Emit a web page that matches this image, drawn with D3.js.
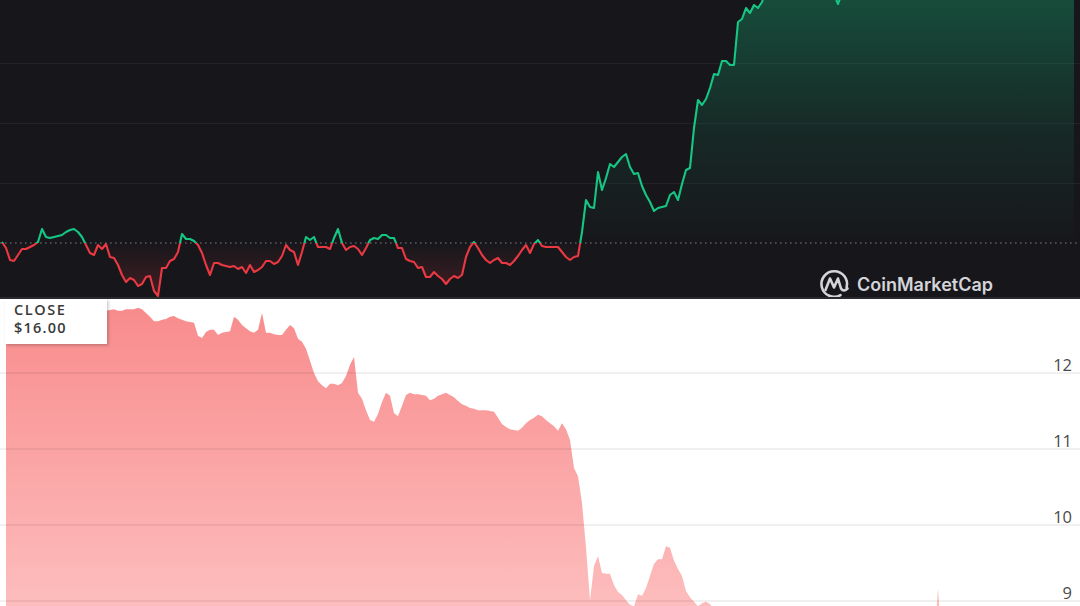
<!DOCTYPE html>
<html>
<head>
<meta charset="utf-8">
<script src="https://cdn.jsdelivr.net/npm/d3@7/dist/d3.min.js"></script>
<style>
  html, body { margin: 0; padding: 0; background: #ffffff; }
  svg { display: block; }
</style>
</head>
<body>
<svg id="chart" width="1080" height="606"></svg>
<script>
// ---------- DATA ----------
// Top panel (CoinMarketCap style): price series, reference (open) price and grid levels
const topOpen = 0.300;
const topGrid = [0.36, 0.42, 0.48];
const topValues = [
  .301,.295,.283,.282,.288,.294,.294,.296,.298,.301,
  .314,.306,.305,.306,.307,.308,.311,.313,.314,.311,
  .306,.298,.290,.288,.298,.294,.299,.286,.285,.278,
  .268,.261,.265,.263,.257,.259,.266,.267,.252,.247,
  .275,.275,.282,.284,.291,.309,.304,.304,.302,.298,
  .290,.278,.268,.280,.280,.278,.277,.276,.277,.274,
  .276,.270,.278,.271,.273,.276,.282,.282,.279,.281,
  .287,.298,.293,.291,.278,.291,.306,.303,.306,.296,
  .296,.296,.294,.305,.314,.300,.293,.296,.297,.294,
  .288,.295,.303,.305,.304,.308,.308,.305,.305,.295,
  .295,.284,.282,.281,.275,.276,.266,.266,.271,.267,
  .264,.259,.264,.267,.265,.268,.286,.296,.301,.295,
  .288,.283,.280,.283,.285,.280,.280,.278,.282,.287,
  .293,.298,.290,.299,.303,.297,.296,.296,.296,.296,
  .291,.286,.283,.286,.287,.311,.343,.336,.335,.371,
  .353,.365,.379,.376,.381,.386,.389,.376,.369,.370,
  .357,.348,.341,.332,.335,.336,.337,.348,.351,.343,
  .359,.373,.375,.415,.443,.438,.444,.455,.469,.468,
  .482,.482,.478,.478,.521,.524,.535,.530,.538,.535,
  .541,.553,.557,.565,.561,.571,.567,.575,.569,.563,
  .571,.577,.569,.561,.565,.558,.553,.555,.549,.539,
  .550,.559,.565,.561,.571,.578,.573,.583,.579,.588,
  .585,.593,.587,.581,.589,.595,.591,.583,.577,.581,
  .573,.569,.575,.581,.578,.587,.593,.589,.598,.603,
  .597,.591,.595,.587,.581,.585,.578,.573,.579,.571,
  .567,.573,.579,.575,.583,.589,.585,.593,.588,.581,
  .577,.583,.579,.573,.569,.575,.571,.565,.568
];

// Bottom panel: close price series and y tick labels
const bottomTicks = [12, 11, 10, 9];
const closeLabel = "CLOSE";
const closeValue = "$16.00";
const brandName = "CoinMarketCap";
const bottomValues = [
  12.83,12.84,12.83,12.84,12.86,12.84,12.83,12.84,12.86,12.84,12.83,12.84,12.86,12.84,12.83,12.82,12.83,12.84,12.83,12.82,12.83,12.84,12.83,12.82,12.83,12.82,
  12.83,12.84,12.82,12.82,12.84,12.84,12.84,12.86,12.84,12.79,12.74,12.68,12.68,12.70,12.71,12.74,12.75,12.72,12.70,12.68,12.67,12.66,
  12.49,12.46,12.54,12.57,12.57,12.50,12.53,12.54,12.55,12.74,12.70,12.63,12.59,12.55,12.53,12.57,12.79,12.53,12.53,12.51,12.50,12.50,12.57,12.63,12.59,12.45,12.41,12.32,12.16,12.00,11.89,11.84,11.80,11.86,11.86,11.84,11.87,11.96,12.11,12.21,
  11.74,11.66,11.51,11.38,11.36,11.46,11.62,11.74,11.70,11.47,11.43,11.57,11.71,11.74,11.72,11.72,11.71,11.70,11.64,11.66,11.70,11.72,11.74,11.71,11.68,11.63,11.59,11.57,11.54,11.53,11.51,11.51,11.51,11.50,11.49,11.41,11.33,11.29,11.26,11.25,11.24,11.28,11.34,11.38,11.41,11.45,11.43,11.38,11.34,11.30,11.24,11.34,11.26,
  11.12,10.75,10.64,10.29,9.70,9.01,9.46,9.59,9.37,9.36,9.36,9.21,9.12,9.08,9.01,8.95,8.93,9.09,9.07,9.17,9.33,9.49,9.55,9.55,9.72,9.70,9.53,9.42,9.33,9.13,9.05,8.99,8.93,8.97,8.99,8.96,8.88,
  8.80,8.72,8.65,8.70,8.62,8.58,8.66,8.60,8.55,8.62,8.68,8.60,8.52,8.57,8.64,8.70,8.66,8.58,8.50,8.55,8.62,8.59,8.53,8.48,8.55,8.60,8.66,8.63,8.57,8.51,8.46,8.52,8.58,8.62,8.56,8.50,8.45,8.49,8.55,8.60,8.57,8.52,8.47,8.43,8.48,8.54,8.58,8.53,8.49,8.44,8.47,8.52,8.48,8.44,8.40,
  9.16,
  8.40,8.46,8.52,8.49,8.44,8.50,8.56,8.53,8.48,8.45,8.51,8.57,8.54,8.49,8.46,8.52,8.58,8.55,8.50,8.47,8.53,8.59,8.56,8.51,8.48,8.54,8.50
];

// ---------- LAYOUT ----------
const W = 1080, H = 606;
const topH = 298;          // dark panel height
const botTop = 299;        // white panel start

const svg = d3.select("#chart");
const defs = svg.append("defs");

// ================= TOP PANEL =================
const gTop = svg.append("g");
gTop.append("rect").attr("x", 0).attr("y", 0).attr("width", W).attr("height", topH).attr("fill", "#17171b");

const xTop = d3.scaleLinear().domain([0, topValues.length - 1]).range([2, 1074]);
const yTop = d3.scaleLinear().domain([0.30, 0.54]).range([243, 3]);
const baseY = yTop(topOpen);

defs.append("clipPath").attr("id", "clipTopPanel")
  .append("rect").attr("x", 0).attr("y", 0).attr("width", W).attr("height", topH - 1);
defs.append("clipPath").attr("id", "clipAbove")
  .append("rect").attr("x", 0).attr("y", -50).attr("width", W).attr("height", baseY + 50);
defs.append("clipPath").attr("id", "clipBelow")
  .append("rect").attr("x", 0).attr("y", baseY).attr("width", W).attr("height", topH - baseY - 1);

const gGreen = defs.append("linearGradient").attr("id", "gradGreen")
  .attr("gradientUnits", "userSpaceOnUse").attr("x1", 0).attr("y1", 0).attr("x2", 0).attr("y2", baseY);
gGreen.append("stop").attr("offset", "0%").attr("stop-color", "#16c784").attr("stop-opacity", 0.30);
gGreen.append("stop").attr("offset", "55%").attr("stop-color", "#16c784").attr("stop-opacity", 0.10);
gGreen.append("stop").attr("offset", "100%").attr("stop-color", "#16c784").attr("stop-opacity", 0.0);

const gRed = defs.append("linearGradient").attr("id", "gradRed")
  .attr("gradientUnits", "userSpaceOnUse").attr("x1", 0).attr("y1", baseY).attr("x2", 0).attr("y2", topH);
gRed.append("stop").attr("offset", "0%").attr("stop-color", "#ea3943").attr("stop-opacity", 0.0);
gRed.append("stop").attr("offset", "100%").attr("stop-color", "#ea3943").attr("stop-opacity", 0.22);

const topPanel = gTop.append("g").attr("clip-path", "url(#clipTopPanel)");

// grid
topPanel.selectAll("line.grid").data(topGrid).join("line")
  .attr("class", "grid")
  .attr("x1", 0).attr("x2", W)
  .attr("y1", d => Math.round(yTop(d)) + 0.5).attr("y2", d => Math.round(yTop(d)) + 0.5)
  .attr("stroke", "#222227").attr("stroke-width", 1);

const areaTop = d3.area().x((d, i) => xTop(i)).y0(baseY).y1(d => yTop(d));
const lineTop = d3.line().x((d, i) => xTop(i)).y(d => yTop(d));

topPanel.append("g").attr("clip-path", "url(#clipAbove)")
  .append("path").datum(topValues).attr("d", areaTop).attr("fill", "url(#gradGreen)");
topPanel.append("g").attr("clip-path", "url(#clipBelow)")
  .append("path").datum(topValues).attr("d", areaTop).attr("fill", "url(#gradRed)");

// dotted reference line
topPanel.append("line")
  .attr("x1", 0).attr("x2", W).attr("y1", baseY).attr("y2", baseY)
  .attr("stroke", "#5b5b62").attr("stroke-width", 1.6).attr("stroke-dasharray", "1.6,3.4");

topPanel.append("g").attr("clip-path", "url(#clipAbove)")
  .append("path").datum(topValues).attr("d", lineTop)
  .attr("fill", "none").attr("stroke", "#16c784").attr("stroke-width", 2.1).attr("stroke-linejoin", "round");
topPanel.append("g").attr("clip-path", "url(#clipBelow)")
  .append("path").datum(topValues).attr("d", lineTop)
  .attr("fill", "none").attr("stroke", "#ea3943").attr("stroke-width", 2.1).attr("stroke-linejoin", "round");

// watermark logo
const logo = gTop.append("g").attr("fill", "none").attr("stroke", "#d4d4d9")
  .attr("stroke-width", 2.6).attr("stroke-linecap", "round").attr("stroke-linejoin", "round");
logo.append("path").attr("d", "M840.5,295.2 A12.8,12.8 0 1 1 846.6,287.4");
logo.append("path").attr("d", "M825.5,290 L830,278.5 L834,287.5 L838,278.5 L841,288.5 Q843.5,292.5 847.5,288.5");
gTop.append("text")
  .attr("x", 857).attr("y", 291)
  .attr("font-family", "Inter, 'Open Sans', sans-serif")
  .attr("font-weight", 600).attr("font-size", 18)
  .attr("fill", "#d4d4d9")
  .text(brandName);

// ================= BOTTOM PANEL =================
svg.append("rect").attr("x", 0).attr("y", topH - 1).attr("width", W).attr("height", 2).attr("fill", "#2a2a2e");
const gBot = svg.append("g");
gBot.append("rect").attr("x", 0).attr("y", botTop).attr("width", W).attr("height", H - botTop).attr("fill", "#ffffff");

defs.append("clipPath").attr("id", "clipBot")
  .append("rect").attr("x", 0).attr("y", botTop).attr("width", W).attr("height", H - botTop);

const xBot = d3.scaleLinear().domain([0, bottomValues.length - 1]).range([6, 1046]);
const yBot = d3.scaleLinear().domain([9, 12]).range([601, 373]);

const gPink = defs.append("linearGradient").attr("id", "gradPink")
  .attr("gradientUnits", "userSpaceOnUse").attr("x1", 0).attr("y1", 300).attr("x2", 0).attr("y2", H);
gPink.append("stop").attr("offset", "0%").attr("stop-color", "#f88a8b");
gPink.append("stop").attr("offset", "100%").attr("stop-color", "#fdbdbd");

const botPanel = gBot.append("g").attr("clip-path", "url(#clipBot)");
const areaBot = d3.area().x((d, i) => xBot(i)).y0(H + 20).y1(d => yBot(d));
botPanel.append("path").datum(bottomValues).attr("d", areaBot).attr("fill", "url(#gradPink)");

// grid lines over the area
botPanel.selectAll("line.bgrid").data(bottomTicks).join("line")
  .attr("class", "bgrid")
  .attr("x1", 0).attr("x2", W)
  .attr("y1", d => yBot(d)).attr("y2", d => yBot(d))
  .attr("stroke", "#000").attr("stroke-opacity", 0.08).attr("stroke-width", 1.5);

botPanel.selectAll("text.btick").data(bottomTicks).join("text")
  .attr("class", "btick")
  .attr("x", 1072).attr("y", d => yBot(d) - 2)
  .attr("text-anchor", "end")
  .attr("font-family", "'Open Sans', sans-serif")
  .attr("font-size", 16.5).attr("fill", "#4a4a4a")
  .text(d => d);

// CLOSE tooltip box
const shadow = defs.append("filter").attr("id", "shadow").attr("x", "-20%").attr("y", "-20%").attr("width", "140%").attr("height", "140%");
shadow.append("feDropShadow").attr("dx", 1.5).attr("dy", 1.5).attr("stdDeviation", 1.5)
  .attr("flood-color", "#000").attr("flood-opacity", 0.22);
gBot.append("rect").attr("x", 5).attr("y", botTop).attr("width", 102).attr("height", 45)
  .attr("fill", "#ffffff").attr("filter", "url(#shadow)");
gBot.append("text").attr("x", 14).attr("y", 315)
  .attr("font-family", "'Open Sans', sans-serif").attr("font-weight", 600)
  .attr("font-size", 14.5).attr("letter-spacing", 1.6).attr("fill", "#3a3a3a")
  .text(closeLabel);
gBot.append("text").attr("x", 14).attr("y", 333)
  .attr("font-family", "'Open Sans', sans-serif").attr("font-weight", 600)
  .attr("font-size", 14.5).attr("letter-spacing", 1.2).attr("fill", "#3a3a3a")
  .text(closeValue);
</script>
</body>
</html>
